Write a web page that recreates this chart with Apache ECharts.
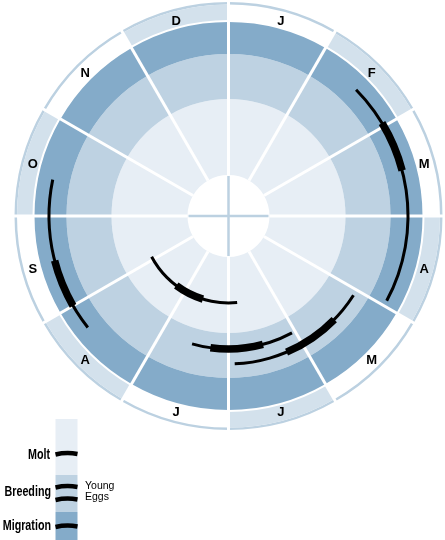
<!DOCTYPE html>
<html>
<head>
<meta charset="utf-8">
<script src="https://cdn.jsdelivr.net/npm/echarts@6/dist/echarts.min.js"></script>
<style>html,body{margin:0;padding:0;background:#fff;}#c{width:445px;height:540px;}</style>
</head>
<body>
<div id="c"></div>
<script>
// ---- data (angles in months from 1 January, 0..12) ----
const months = ['J','F','M','A','M','J','J','A','S','O','N','D'];
const migrationRange = [[1.51, 3.94], [7.72, 9.39]];
const migrationPeak  = [[1.96, 2.51], [8.00, 8.52]];
const eggsRange  = [[4.08, 5.92]];
const eggsPeak   = [[4.48, 5.23]];
const youngRange = [[5.05, 6.53]];
const youngPeak  = [[5.50, 6.26]];
const moltRange  = [[5.81, 8.07]];
const moltPeak   = [[6.57, 7.23]];
const legendLabels = ['Molt', 'Breeding', 'Migration'];
const breedingLabels = ['Young', 'Eggs'];

// ---- styling / layout (radius axis units) ----
const R = { hole: 41, molt: 117, breeding: 162, migration: 194, bandIn: 196, bandOut: 214, border: 211.5 };
const TRACK = { molt: 87, young: 133, eggs: 148, migration: 179.5 };
const C = { light: '#e7eef5', mid: '#bed2e2', dark: '#84abc9', band: '#d3e1ec', border: '#bcd1e1' };
const THIN = 3, THICK = 7.5;

function geo(params, api, r, m) {
  const cx = params.coordSys.cx, cy = params.coordSys.cy;
  const p = api.coord([r, m]);
  return { cx, cy, p, a: Math.atan2(p[1] - cy, p[0] - cx), d: Math.hypot(p[0] - cx, p[1] - cy) };
}
function sector(params, api, r0, r1, m0, m1, fill) {
  const g0 = geo(params, api, r0, m0), g1 = geo(params, api, r1, m0), g2 = geo(params, api, r1, m1);
  let sweep = g2.a - g0.a;
  while (sweep <= 0) sweep += Math.PI * 2;
  return { type: 'sector', shape: { cx: g0.cx, cy: g0.cy, r0: g0.d, r: g1.d, startAngle: g0.a, endAngle: g0.a + sweep, clockwise: true }, style: { fill: fill } };
}

const ringData = months.map((m, i) => [R.molt, i]);

function buildArcs(track, list, w) { return list.map(s => [TRACK[track], s[0], s[1], w]); }
const arcData = [].concat(
  buildArcs('migration', migrationRange, THIN), buildArcs('migration', migrationPeak, THICK),
  buildArcs('eggs', eggsRange, THIN), buildArcs('eggs', eggsPeak, THICK),
  buildArcs('young', youngRange, THIN), buildArcs('young', youngPeak, THICK),
  buildArcs('molt', moltRange, THIN), buildArcs('molt', moltPeak, THICK)
);

const legendFont = 'bold 14.5px "Liberation Sans", Arial, sans-serif';
function legendText(txt, x, y) {
  return { type: 'text', x: x, y: y, scaleX: 0.74, style: { text: txt, font: legendFont, fill: '#000', align: 'right', verticalAlign: 'middle' } };
}
function legendMark(y) {
  return { type: 'bezierCurve', shape: { x1: 55.5, y1: y + 0.5, cpx1: 66.5, cpy1: y - 2, x2: 77.5, y2: y }, style: { stroke: '#000', lineWidth: 4.5, fill: null } };
}

const chart = echarts.init(document.getElementById('c'), null, { renderer: 'canvas' });
chart.setOption({
  animation: false,
  polar: { center: [228.5, 216], radius: R.bandOut },
  angleAxis: { type: 'value', min: 0, max: 12, startAngle: 90, clockwise: true, show: false },
  radiusAxis: { type: 'value', min: 0, max: R.bandOut, show: false },
  series: [
    {
      type: 'custom', coordinateSystem: 'polar', z: 1, silent: true,
      data: ringData,
      renderItem: function (params, api) {
        const i = api.value(1);
        const ch = [
          sector(params, api, R.hole, R.molt, i, i + 1, C.light),
          sector(params, api, R.molt, R.breeding, i, i + 1, C.mid),
          sector(params, api, R.breeding, R.migration, i, i + 1, C.dark),
          sector(params, api, R.border, R.bandOut, i, i + 1, C.border)
        ];
        if (i % 2 === 1) ch.push(sector(params, api, R.bandIn, R.border, i, i + 1, C.band));
        return { type: 'group', children: ch };
      }
    },
    {
      type: 'custom', coordinateSystem: 'polar', z: 2, silent: true,
      data: ringData,
      renderItem: function (params, api) {
        const i = api.value(1);
        const a = api.coord([R.hole, i]), b = api.coord([R.bandOut + 1, i]);
        const ch = [{ type: 'line', shape: { x1: a[0], y1: a[1], x2: b[0], y2: b[1] }, style: { stroke: '#fff', lineWidth: 3 } }];
        if (i % 3 === 0 && i < 6) {
          const p = api.coord([40, i]), q = api.coord([40, i + 6]);
          ch.push({ type: 'line', shape: { x1: p[0], y1: p[1], x2: q[0], y2: q[1] }, style: { stroke: C.border, lineWidth: 2.5 } });
        }
        return { type: 'group', children: ch };
      }
    },
    {
      type: 'custom', coordinateSystem: 'polar', z: 3, silent: true,
      data: arcData,
      renderItem: function (params, api) {
        const r = api.value(0), w = api.value(3);
        return sector(params, api, r - w / 2, r + w / 2, api.value(1), api.value(2), '#000');
      }
    },
    {
      type: 'custom', coordinateSystem: 'polar', z: 4, silent: true,
      data: ringData,
      renderItem: function (params, api) {
        const i = api.value(1);
        const p = api.coord([202.5, i + 0.5]);
        return { type: 'text', x: p[0], y: p[1] + 1, style: { text: months[i], fill: '#000', font: 'bold 13px "Liberation Sans", Arial, sans-serif', align: 'center', verticalAlign: 'middle' } };
      }
    }
  ],
  graphic: [
    { type: 'rect', shape: { x: 55.5, y: 419, width: 22, height: 56 }, style: { fill: C.light } },
    { type: 'rect', shape: { x: 55.5, y: 475, width: 22, height: 37 }, style: { fill: C.mid } },
    { type: 'rect', shape: { x: 55.5, y: 512, width: 22, height: 30 }, style: { fill: C.dark } },
    legendMark(454), legendMark(487), legendMark(499.5), legendMark(526.5),
    legendText(legendLabels[0], 50, 455),
    legendText(legendLabels[1], 51, 491.5),
    legendText(legendLabels[2], 51, 526),
    { type: 'text', x: 85, y: 486.5, style: { text: breedingLabels[0], font: '10.5px "Liberation Sans", Arial, sans-serif', fill: '#000', align: 'left', verticalAlign: 'middle' } },
    { type: 'text', x: 85, y: 497.5, style: { text: breedingLabels[1], font: '10.5px "Liberation Sans", Arial, sans-serif', fill: '#000', align: 'left', verticalAlign: 'middle' } }
  ]
});
</script>
</body>
</html>
